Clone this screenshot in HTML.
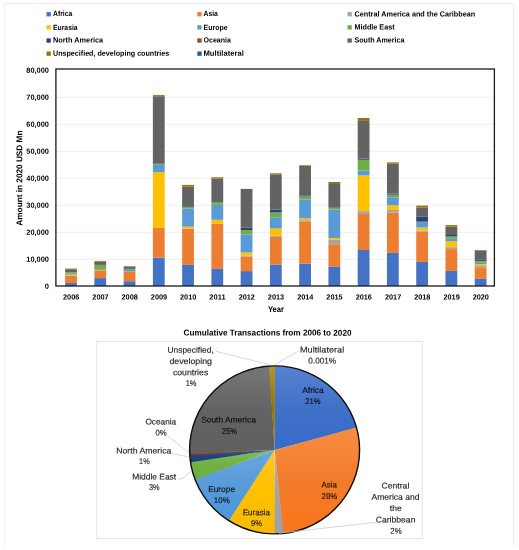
<!DOCTYPE html>
<html lang="en"><head><meta charset="utf-8"><title>Transactions by region</title>
<style>html,body{margin:0;padding:0;background:#fff}svg{display:block}text{font-family:"Liberation Sans", sans-serif}</style>
</head><body>
<svg width="519" height="550" viewBox="0 0 519 550">
<rect x="0" y="0" width="519" height="550" fill="#ffffff"/>
<path d="M4.6 546 V3.5 H513.4 V546" fill="none" stroke="#eeeeee" stroke-width="1"/>
<g font-size="7.5" font-weight="bold" fill="#000">
<rect x="46.5" y="12.1" width="4.3" height="4.3" fill="#4472C4"/>
<text x="53.0" y="16.40" transform="rotate(0.03 53.0 16.40)" textLength="19.3" lengthAdjust="spacingAndGlyphs">Africa</text>
<rect x="197.3" y="12.1" width="4.3" height="4.3" fill="#ED7D31"/>
<text x="203.5" y="16.40" transform="rotate(0.03 203.5 16.40)" textLength="14.3" lengthAdjust="spacingAndGlyphs">Asia</text>
<rect x="347.5" y="12.1" width="4.3" height="4.3" fill="#A5A5A5"/>
<text x="354.5" y="16.40" transform="rotate(0.03 354.5 16.40)" textLength="120.7" lengthAdjust="spacingAndGlyphs">Central America and the Caribbean</text>
<rect x="46.5" y="25.2" width="4.3" height="4.3" fill="#FFC000"/>
<text x="53.0" y="29.50" transform="rotate(0.03 53.0 29.50)" textLength="24.6" lengthAdjust="spacingAndGlyphs">Eurasia</text>
<rect x="197.3" y="25.2" width="4.3" height="4.3" fill="#5B9BD5"/>
<text x="203.5" y="29.50" transform="rotate(0.03 203.5 29.50)" textLength="24.1" lengthAdjust="spacingAndGlyphs">Europe</text>
<rect x="347.5" y="25.2" width="4.3" height="4.3" fill="#70AD47"/>
<text x="354.5" y="29.50" transform="rotate(0.03 354.5 29.50)" textLength="40.1" lengthAdjust="spacingAndGlyphs">Middle East</text>
<rect x="46.5" y="38.4" width="4.3" height="4.3" fill="#264478"/>
<text x="53.0" y="42.60" transform="rotate(0.03 53.0 42.60)" textLength="50.2" lengthAdjust="spacingAndGlyphs">North America</text>
<rect x="197.3" y="38.4" width="4.3" height="4.3" fill="#9E480E"/>
<text x="203.5" y="42.60" transform="rotate(0.03 203.5 42.60)" textLength="27.4" lengthAdjust="spacingAndGlyphs">Oceania</text>
<rect x="347.5" y="38.4" width="4.3" height="4.3" fill="#636363"/>
<text x="354.5" y="42.60" transform="rotate(0.03 354.5 42.60)" textLength="49.9" lengthAdjust="spacingAndGlyphs">South America</text>
<rect x="46.5" y="51.5" width="4.3" height="4.3" fill="#997300"/>
<text x="53.0" y="55.70" transform="rotate(0.03 53.0 55.70)" textLength="116.3" lengthAdjust="spacingAndGlyphs">Unspecified, developing countries</text>
<rect x="197.3" y="51.5" width="4.3" height="4.3" fill="#255E91"/>
<text x="203.5" y="55.70" transform="rotate(0.03 203.5 55.70)" textLength="40.4" lengthAdjust="spacingAndGlyphs">Multilateral</text>
</g>
<g stroke="#e9e9e9" stroke-width="0.8">
<line x1="55.9" x2="494.4" y1="259.30" y2="259.30"/>
<line x1="55.9" x2="494.4" y1="232.30" y2="232.30"/>
<line x1="55.9" x2="494.4" y1="205.30" y2="205.30"/>
<line x1="55.9" x2="494.4" y1="178.30" y2="178.30"/>
<line x1="55.9" x2="494.4" y1="151.30" y2="151.30"/>
<line x1="55.9" x2="494.4" y1="124.30" y2="124.30"/>
<line x1="55.9" x2="494.4" y1="97.30" y2="97.30"/>
</g>
<g>
<rect x="65.10" y="283.05" width="11.80" height="2.95" fill="#4472C4"/>
<rect x="65.10" y="275.80" width="11.80" height="7.25" fill="#ED7D31"/>
<rect x="65.10" y="274.70" width="11.80" height="1.10" fill="#FFC000"/>
<rect x="65.10" y="273.80" width="11.80" height="0.90" fill="#5B9BD5"/>
<rect x="65.10" y="272.40" width="11.80" height="1.40" fill="#70AD47"/>
<rect x="65.10" y="269.20" width="11.80" height="3.20" fill="#636363"/>
<rect x="65.10" y="268.60" width="11.80" height="0.60" fill="#997300"/>
<rect x="94.36" y="278.10" width="11.80" height="7.90" fill="#4472C4"/>
<rect x="94.36" y="270.40" width="11.80" height="7.70" fill="#ED7D31"/>
<rect x="94.36" y="269.80" width="11.80" height="0.60" fill="#A5A5A5"/>
<rect x="94.36" y="265.30" width="11.80" height="4.50" fill="#70AD47"/>
<rect x="94.36" y="264.90" width="11.80" height="0.40" fill="#264478"/>
<rect x="94.36" y="261.50" width="11.80" height="3.40" fill="#636363"/>
<rect x="94.36" y="260.90" width="11.80" height="0.60" fill="#997300"/>
<rect x="123.62" y="281.20" width="11.80" height="4.80" fill="#4472C4"/>
<rect x="123.62" y="271.60" width="11.80" height="9.60" fill="#ED7D31"/>
<rect x="123.62" y="270.00" width="11.80" height="1.60" fill="#5B9BD5"/>
<rect x="123.62" y="268.90" width="11.80" height="1.10" fill="#70AD47"/>
<rect x="123.62" y="266.70" width="11.80" height="2.20" fill="#636363"/>
<rect x="123.62" y="266.10" width="11.80" height="0.60" fill="#997300"/>
<rect x="152.88" y="257.60" width="11.80" height="28.40" fill="#4472C4"/>
<rect x="152.88" y="227.80" width="11.80" height="29.80" fill="#ED7D31"/>
<rect x="152.88" y="172.20" width="11.80" height="55.60" fill="#FFC000"/>
<rect x="152.88" y="164.90" width="11.80" height="7.30" fill="#5B9BD5"/>
<rect x="152.88" y="163.80" width="11.80" height="1.10" fill="#70AD47"/>
<rect x="152.88" y="96.20" width="11.80" height="67.60" fill="#636363"/>
<rect x="152.88" y="95.10" width="11.80" height="1.10" fill="#997300"/>
<rect x="182.14" y="264.90" width="11.80" height="21.10" fill="#4472C4"/>
<rect x="182.14" y="228.50" width="11.80" height="36.40" fill="#ED7D31"/>
<rect x="182.14" y="226.70" width="11.80" height="1.80" fill="#FFC000"/>
<rect x="182.14" y="208.50" width="11.80" height="18.20" fill="#5B9BD5"/>
<rect x="182.14" y="206.70" width="11.80" height="1.80" fill="#70AD47"/>
<rect x="182.14" y="206.00" width="11.80" height="0.70" fill="#264478"/>
<rect x="182.14" y="186.70" width="11.80" height="19.30" fill="#636363"/>
<rect x="182.14" y="184.90" width="11.80" height="1.80" fill="#997300"/>
<rect x="211.40" y="268.90" width="11.80" height="17.10" fill="#4472C4"/>
<rect x="211.40" y="223.80" width="11.80" height="45.10" fill="#ED7D31"/>
<rect x="211.40" y="219.80" width="11.80" height="4.00" fill="#FFC000"/>
<rect x="211.40" y="204.90" width="11.80" height="14.90" fill="#5B9BD5"/>
<rect x="211.40" y="202.00" width="11.80" height="2.90" fill="#70AD47"/>
<rect x="211.40" y="178.40" width="11.80" height="23.60" fill="#636363"/>
<rect x="211.40" y="177.30" width="11.80" height="1.10" fill="#997300"/>
<rect x="240.66" y="271.10" width="11.80" height="14.90" fill="#4472C4"/>
<rect x="240.66" y="256.50" width="11.80" height="14.60" fill="#ED7D31"/>
<rect x="240.66" y="255.50" width="11.80" height="1.00" fill="#A5A5A5"/>
<rect x="240.66" y="252.50" width="11.80" height="3.00" fill="#FFC000"/>
<rect x="240.66" y="234.40" width="11.80" height="18.10" fill="#5B9BD5"/>
<rect x="240.66" y="230.00" width="11.80" height="4.40" fill="#70AD47"/>
<rect x="240.66" y="227.80" width="11.80" height="2.20" fill="#264478"/>
<rect x="240.66" y="188.90" width="11.80" height="38.90" fill="#636363"/>
<rect x="269.92" y="264.50" width="11.80" height="21.50" fill="#4472C4"/>
<rect x="269.92" y="236.90" width="11.80" height="27.60" fill="#ED7D31"/>
<rect x="269.92" y="235.80" width="11.80" height="1.10" fill="#A5A5A5"/>
<rect x="269.92" y="228.50" width="11.80" height="7.30" fill="#FFC000"/>
<rect x="269.92" y="217.30" width="11.80" height="11.20" fill="#5B9BD5"/>
<rect x="269.92" y="212.50" width="11.80" height="4.80" fill="#70AD47"/>
<rect x="269.92" y="209.60" width="11.80" height="2.90" fill="#264478"/>
<rect x="269.92" y="174.40" width="11.80" height="35.20" fill="#636363"/>
<rect x="269.92" y="173.30" width="11.80" height="1.10" fill="#997300"/>
<rect x="299.18" y="263.80" width="11.80" height="22.20" fill="#4472C4"/>
<rect x="299.18" y="221.30" width="11.80" height="42.50" fill="#ED7D31"/>
<rect x="299.18" y="220.20" width="11.80" height="1.10" fill="#A5A5A5"/>
<rect x="299.18" y="218.40" width="11.80" height="1.80" fill="#FFC000"/>
<rect x="299.18" y="199.50" width="11.80" height="18.90" fill="#5B9BD5"/>
<rect x="299.18" y="196.50" width="11.80" height="3.00" fill="#70AD47"/>
<rect x="299.18" y="195.80" width="11.80" height="0.70" fill="#264478"/>
<rect x="299.18" y="166.00" width="11.80" height="29.80" fill="#636363"/>
<rect x="299.18" y="165.30" width="11.80" height="0.70" fill="#997300"/>
<rect x="328.44" y="266.40" width="11.80" height="19.60" fill="#4472C4"/>
<rect x="328.44" y="244.20" width="11.80" height="22.20" fill="#ED7D31"/>
<rect x="328.44" y="239.80" width="11.80" height="4.40" fill="#A5A5A5"/>
<rect x="328.44" y="238.00" width="11.80" height="1.80" fill="#FFC000"/>
<rect x="328.44" y="209.60" width="11.80" height="28.40" fill="#5B9BD5"/>
<rect x="328.44" y="207.80" width="11.80" height="1.80" fill="#70AD47"/>
<rect x="328.44" y="183.10" width="11.80" height="24.70" fill="#636363"/>
<rect x="328.44" y="182.00" width="11.80" height="1.10" fill="#997300"/>
<rect x="357.70" y="250.00" width="11.80" height="36.00" fill="#4472C4"/>
<rect x="357.70" y="214.00" width="11.80" height="36.00" fill="#ED7D31"/>
<rect x="357.70" y="211.10" width="11.80" height="2.90" fill="#A5A5A5"/>
<rect x="357.70" y="175.50" width="11.80" height="35.60" fill="#FFC000"/>
<rect x="357.70" y="170.40" width="11.80" height="5.10" fill="#5B9BD5"/>
<rect x="357.70" y="159.80" width="11.80" height="10.60" fill="#70AD47"/>
<rect x="357.70" y="158.70" width="11.80" height="1.10" fill="#264478"/>
<rect x="357.70" y="120.20" width="11.80" height="38.50" fill="#636363"/>
<rect x="357.70" y="118.00" width="11.80" height="2.20" fill="#997300"/>
<rect x="386.96" y="252.90" width="11.80" height="33.10" fill="#4472C4"/>
<rect x="386.96" y="212.50" width="11.80" height="40.40" fill="#ED7D31"/>
<rect x="386.96" y="210.00" width="11.80" height="2.50" fill="#A5A5A5"/>
<rect x="386.96" y="205.30" width="11.80" height="4.70" fill="#FFC000"/>
<rect x="386.96" y="197.30" width="11.80" height="8.00" fill="#5B9BD5"/>
<rect x="386.96" y="194.70" width="11.80" height="2.60" fill="#70AD47"/>
<rect x="386.96" y="193.60" width="11.80" height="1.10" fill="#264478"/>
<rect x="386.96" y="163.80" width="11.80" height="29.80" fill="#636363"/>
<rect x="386.96" y="162.40" width="11.80" height="1.40" fill="#997300"/>
<rect x="416.22" y="261.90" width="11.80" height="24.10" fill="#4472C4"/>
<rect x="416.22" y="231.80" width="11.80" height="30.10" fill="#ED7D31"/>
<rect x="416.22" y="230.50" width="11.80" height="1.30" fill="#A5A5A5"/>
<rect x="416.22" y="227.50" width="11.80" height="3.00" fill="#FFC000"/>
<rect x="416.22" y="222.10" width="11.80" height="5.40" fill="#5B9BD5"/>
<rect x="416.22" y="221.60" width="11.80" height="0.50" fill="#9E480E"/>
<rect x="416.22" y="216.40" width="11.80" height="5.20" fill="#264478"/>
<rect x="416.22" y="207.40" width="11.80" height="9.00" fill="#636363"/>
<rect x="416.22" y="205.60" width="11.80" height="1.80" fill="#997300"/>
<rect x="445.48" y="270.90" width="11.80" height="15.10" fill="#4472C4"/>
<rect x="445.48" y="249.10" width="11.80" height="21.80" fill="#ED7D31"/>
<rect x="445.48" y="247.20" width="11.80" height="1.90" fill="#A5A5A5"/>
<rect x="445.48" y="241.30" width="11.80" height="5.90" fill="#FFC000"/>
<rect x="445.48" y="238.80" width="11.80" height="2.50" fill="#5B9BD5"/>
<rect x="445.48" y="236.40" width="11.80" height="2.40" fill="#70AD47"/>
<rect x="445.48" y="235.00" width="11.80" height="1.40" fill="#264478"/>
<rect x="445.48" y="226.70" width="11.80" height="8.30" fill="#636363"/>
<rect x="445.48" y="225.10" width="11.80" height="1.60" fill="#997300"/>
<rect x="474.74" y="278.40" width="11.80" height="7.60" fill="#4472C4"/>
<rect x="474.74" y="267.80" width="11.80" height="10.60" fill="#ED7D31"/>
<rect x="474.74" y="266.00" width="11.80" height="1.80" fill="#A5A5A5"/>
<rect x="474.74" y="264.00" width="11.80" height="2.00" fill="#FFC000"/>
<rect x="474.74" y="262.90" width="11.80" height="1.10" fill="#5B9BD5"/>
<rect x="474.74" y="261.30" width="11.80" height="1.60" fill="#70AD47"/>
<rect x="474.74" y="259.90" width="11.80" height="1.40" fill="#255E91"/>
<rect x="474.74" y="250.40" width="11.80" height="9.50" fill="#636363"/>
<rect x="474.74" y="250.00" width="11.80" height="0.40" fill="#997300"/>
</g>
<rect x="55.9" y="69.0" width="438.5" height="217.0" fill="none" stroke="#1a1a1a" stroke-width="1.3"/>
<g font-size="7.4" font-weight="bold" fill="#000" text-anchor="end">
<text x="48.9" y="288.65" transform="rotate(0.03 48.9 288.65)" textLength="4.2" lengthAdjust="spacingAndGlyphs">0</text>
<text x="48.9" y="261.65" transform="rotate(0.03 48.9 261.65)" textLength="22.6" lengthAdjust="spacingAndGlyphs">10,000</text>
<text x="48.9" y="234.65" transform="rotate(0.03 48.9 234.65)" textLength="22.6" lengthAdjust="spacingAndGlyphs">20,000</text>
<text x="48.9" y="207.65" transform="rotate(0.03 48.9 207.65)" textLength="22.6" lengthAdjust="spacingAndGlyphs">30,000</text>
<text x="48.9" y="180.65" transform="rotate(0.03 48.9 180.65)" textLength="22.6" lengthAdjust="spacingAndGlyphs">40,000</text>
<text x="48.9" y="153.65" transform="rotate(0.03 48.9 153.65)" textLength="22.6" lengthAdjust="spacingAndGlyphs">50,000</text>
<text x="48.9" y="126.65" transform="rotate(0.03 48.9 126.65)" textLength="22.6" lengthAdjust="spacingAndGlyphs">60,000</text>
<text x="48.9" y="99.65" transform="rotate(0.03 48.9 99.65)" textLength="22.6" lengthAdjust="spacingAndGlyphs">70,000</text>
<text x="48.9" y="72.65" transform="rotate(0.03 48.9 72.65)" textLength="22.6" lengthAdjust="spacingAndGlyphs">80,000</text>
</g>
<g font-size="7.4" font-weight="bold" fill="#000" text-anchor="middle">
<text x="71.2" y="299.50" transform="rotate(0.03 71.2 299.50)" textLength="16.3" lengthAdjust="spacingAndGlyphs">2006</text>
<text x="100.5" y="299.50" transform="rotate(0.03 100.5 299.50)" textLength="16.3" lengthAdjust="spacingAndGlyphs">2007</text>
<text x="129.7" y="299.50" transform="rotate(0.03 129.7 299.50)" textLength="16.3" lengthAdjust="spacingAndGlyphs">2008</text>
<text x="159.0" y="299.50" transform="rotate(0.03 159.0 299.50)" textLength="16.3" lengthAdjust="spacingAndGlyphs">2009</text>
<text x="188.2" y="299.50" transform="rotate(0.03 188.2 299.50)" textLength="16.3" lengthAdjust="spacingAndGlyphs">2010</text>
<text x="217.5" y="299.50" transform="rotate(0.03 217.5 299.50)" textLength="16.3" lengthAdjust="spacingAndGlyphs">2011</text>
<text x="246.8" y="299.50" transform="rotate(0.03 246.8 299.50)" textLength="16.3" lengthAdjust="spacingAndGlyphs">2012</text>
<text x="276.0" y="299.50" transform="rotate(0.03 276.0 299.50)" textLength="16.3" lengthAdjust="spacingAndGlyphs">2013</text>
<text x="305.3" y="299.50" transform="rotate(0.03 305.3 299.50)" textLength="16.3" lengthAdjust="spacingAndGlyphs">2014</text>
<text x="334.5" y="299.50" transform="rotate(0.03 334.5 299.50)" textLength="16.3" lengthAdjust="spacingAndGlyphs">2015</text>
<text x="363.8" y="299.50" transform="rotate(0.03 363.8 299.50)" textLength="16.3" lengthAdjust="spacingAndGlyphs">2016</text>
<text x="393.1" y="299.50" transform="rotate(0.03 393.1 299.50)" textLength="16.3" lengthAdjust="spacingAndGlyphs">2017</text>
<text x="422.3" y="299.50" transform="rotate(0.03 422.3 299.50)" textLength="16.3" lengthAdjust="spacingAndGlyphs">2018</text>
<text x="451.6" y="299.50" transform="rotate(0.03 451.6 299.50)" textLength="16.3" lengthAdjust="spacingAndGlyphs">2019</text>
<text x="480.8" y="299.50" transform="rotate(0.03 480.8 299.50)" textLength="16.3" lengthAdjust="spacingAndGlyphs">2020</text>
</g>
<text x="276.0" y="312.00" transform="rotate(0.03 276.0 312.00)" textLength="16.2" lengthAdjust="spacingAndGlyphs" font-size="8.4" font-weight="bold" text-anchor="middle">Year</text>
<text transform="translate(22.3 178.1) rotate(-89.97)" font-size="8.4" font-weight="bold" text-anchor="middle" textLength="95.1" lengthAdjust="spacingAndGlyphs">Amount in 2020 USD Mn</text>
<text x="267.5" y="335.60" transform="rotate(0.03 267.5 335.60)" textLength="168.0" lengthAdjust="spacingAndGlyphs" font-size="8.5" font-weight="bold" text-anchor="middle">Cumulative Transactions from 2006 to 2020</text>
<rect x="96.8" y="341.5" width="325.4" height="197" fill="#fff" stroke="#e3e3e3" stroke-width="1"/>
<defs>
<linearGradient id="gA" x1="0" y1="0" x2="0" y2="1"><stop offset="0" stop-color="#5682D2"/><stop offset="0.5" stop-color="#4171C7"/><stop offset="1" stop-color="#346BCC"/></linearGradient>
<linearGradient id="gAs" x1="0" y1="0" x2="0" y2="1"><stop offset="0" stop-color="#F98C42"/><stop offset="0.5" stop-color="#F27C2C"/><stop offset="1" stop-color="#FB751A"/></linearGradient>
<linearGradient id="gCA" x1="0" y1="0" x2="0" y2="1"><stop offset="0" stop-color="#B1B1B1"/><stop offset="0.5" stop-color="#A5A5A5"/><stop offset="1" stop-color="#A0A0A0"/></linearGradient>
<linearGradient id="gEu" x1="0" y1="0" x2="0" y2="1"><stop offset="0" stop-color="#FFC821"/><stop offset="0.5" stop-color="#FFC000"/><stop offset="1" stop-color="#F7BA00"/></linearGradient>
<linearGradient id="gEr" x1="0" y1="0" x2="0" y2="1"><stop offset="0" stop-color="#6AA8E1"/><stop offset="0.5" stop-color="#589BD8"/><stop offset="1" stop-color="#4A97DD"/></linearGradient>
<linearGradient id="gME" x1="0" y1="0" x2="0" y2="1"><stop offset="0" stop-color="#82BD5A"/><stop offset="0.5" stop-color="#70B044"/><stop offset="1" stop-color="#6BAF3D"/></linearGradient>
<linearGradient id="gNA" x1="0" y1="0" x2="0" y2="1"><stop offset="0" stop-color="#3E5B8E"/><stop offset="0.5" stop-color="#24437A"/><stop offset="1" stop-color="#1F407A"/></linearGradient>
<linearGradient id="gOc" x1="0" y1="0" x2="0" y2="1"><stop offset="0" stop-color="#B25E26"/><stop offset="0.5" stop-color="#A2470A"/><stop offset="1" stop-color="#A44403"/></linearGradient>
<linearGradient id="gSA" x1="0" y1="0" x2="0" y2="1"><stop offset="0" stop-color="#777777"/><stop offset="0.5" stop-color="#636363"/><stop offset="1" stop-color="#606060"/></linearGradient>
<linearGradient id="gUn" x1="0" y1="0" x2="0" y2="1"><stop offset="0" stop-color="#B5932C"/><stop offset="0.5" stop-color="#997300"/><stop offset="1" stop-color="#947000"/></linearGradient>
</defs>
<g>
<path d="M274.65 449.90 L274.65 365.90 A85.00 84.00 0 0 1 356.72 428.02 Z" fill="url(#gA)"/>
<path d="M274.65 449.90 L356.52 427.31 A85.00 84.00 0 0 1 282.94 533.50 Z" fill="url(#gAs)"/>
<path d="M274.65 449.90 L283.68 533.42 A85.00 84.00 0 0 1 273.91 533.90 Z" fill="url(#gCA)"/>
<path d="M274.65 449.90 L274.65 533.90 A85.00 84.00 0 0 1 228.23 520.27 Z" fill="url(#gEu)"/>
<path d="M274.65 449.90 L228.85 520.67 A85.00 84.00 0 0 1 194.88 478.91 Z" fill="url(#gEr)"/>
<path d="M274.65 449.90 L195.14 479.59 A85.00 84.00 0 0 1 190.46 461.45 Z" fill="url(#gME)"/>
<path d="M274.65 449.90 L190.56 462.17 A85.00 84.00 0 0 1 189.75 454.00 Z" fill="url(#gNA)"/>
<path d="M274.65 449.90 L189.79 454.74 A85.00 84.00 0 0 1 189.70 452.83 Z" fill="url(#gOc)"/>
<path d="M274.65 449.90 L189.73 453.56 A85.00 84.00 0 0 1 269.61 366.05 Z" fill="url(#gSA)"/>
<path d="M274.65 449.90 L268.87 366.09 A85.00 84.00 0 0 1 275.02 365.90 Z" fill="url(#gUn)"/>
</g>
<ellipse cx="274.6" cy="449.9" rx="85.0" ry="84.0" fill="none" stroke="#0d0d0d" stroke-width="1.4"/>
<g fill="none" stroke="#c9c9c9" stroke-width="0.75">
<path d="M215.5 351.2 L270.6 364.8"/>
<path d="M275.0 364.6 L299.3 350.6"/>
<path d="M167.2 435.6 L188.9 452.6"/>
<path d="M172.4 453.6 L189.4 457.0"/>
<path d="M178.3 479.4 L183.0 478.3 L191.2 471.0"/>
<path d="M375.2 522.4 L279.0 533.2"/>
</g>
<g font-size="8.3" fill="#000" fill-opacity="0.82" stroke="#000" stroke-opacity="0.82" stroke-width="0.18" text-anchor="middle">
<text x="190.6" y="352.80" transform="rotate(0.03 190.6 352.80)" textLength="46.3" lengthAdjust="spacingAndGlyphs">Unspecified,</text>
<text x="190.7" y="364.00" transform="rotate(0.03 190.7 364.00)" textLength="42.6" lengthAdjust="spacingAndGlyphs">developing</text>
<text x="190.6" y="375.20" transform="rotate(0.03 190.6 375.20)" textLength="35.3" lengthAdjust="spacingAndGlyphs">countries</text>
<text x="191.1" y="386.40" transform="rotate(0.03 191.1 386.40)" textLength="10.8" lengthAdjust="spacingAndGlyphs">1%</text>
<text x="322.1" y="352.40" transform="rotate(0.03 322.1 352.40)" textLength="44.2" lengthAdjust="spacingAndGlyphs">Multilateral</text>
<text x="322.2" y="363.40" transform="rotate(0.03 322.2 363.40)" textLength="27.8" lengthAdjust="spacingAndGlyphs">0.001%</text>
<text x="313.0" y="392.90" transform="rotate(0.03 313.0 392.90)" textLength="21.5" lengthAdjust="spacingAndGlyphs">Africa</text>
<text x="313.0" y="404.40" transform="rotate(0.03 313.0 404.40)" textLength="15.3" lengthAdjust="spacingAndGlyphs">21%</text>
<text x="228.5" y="422.40" transform="rotate(0.03 228.5 422.40)" textLength="54.7" lengthAdjust="spacingAndGlyphs">South America</text>
<text x="229.3" y="433.80" transform="rotate(0.03 229.3 433.80)" textLength="15.0" lengthAdjust="spacingAndGlyphs">25%</text>
<text x="160.8" y="424.50" transform="rotate(0.03 160.8 424.50)" textLength="30.8" lengthAdjust="spacingAndGlyphs">Oceania</text>
<text x="161.0" y="435.60" transform="rotate(0.03 161.0 435.60)" textLength="11.2" lengthAdjust="spacingAndGlyphs">0%</text>
<text x="143.8" y="453.60" transform="rotate(0.03 143.8 453.60)" textLength="55.1" lengthAdjust="spacingAndGlyphs">North America</text>
<text x="144.4" y="464.20" transform="rotate(0.03 144.4 464.20)" textLength="10.6" lengthAdjust="spacingAndGlyphs">1%</text>
<text x="154.2" y="479.60" transform="rotate(0.03 154.2 479.60)" textLength="43.9" lengthAdjust="spacingAndGlyphs">Middle East</text>
<text x="154.3" y="490.50" transform="rotate(0.03 154.3 490.50)" textLength="10.6" lengthAdjust="spacingAndGlyphs">3%</text>
<text x="221.6" y="491.90" transform="rotate(0.03 221.6 491.90)" textLength="26.9" lengthAdjust="spacingAndGlyphs">Europe</text>
<text x="221.8" y="503.00" transform="rotate(0.03 221.8 503.00)" textLength="15.9" lengthAdjust="spacingAndGlyphs">10%</text>
<text x="256.4" y="515.20" transform="rotate(0.03 256.4 515.20)" textLength="27.4" lengthAdjust="spacingAndGlyphs">Eurasia</text>
<text x="256.5" y="525.80" transform="rotate(0.03 256.5 525.80)" textLength="11.0" lengthAdjust="spacingAndGlyphs">9%</text>
<text x="329.3" y="487.40" transform="rotate(0.03 329.3 487.40)" textLength="15.4" lengthAdjust="spacingAndGlyphs">Asia</text>
<text x="329.4" y="499.00" transform="rotate(0.03 329.4 499.00)" textLength="15.6" lengthAdjust="spacingAndGlyphs">28%</text>
<text x="395.4" y="488.50" transform="rotate(0.03 395.4 488.50)" textLength="27.8" lengthAdjust="spacingAndGlyphs">Central</text>
<text x="395.5" y="499.80" transform="rotate(0.03 395.5 499.80)" textLength="48.0" lengthAdjust="spacingAndGlyphs">America and</text>
<text x="395.7" y="511.10" transform="rotate(0.03 395.7 511.10)" textLength="11.9" lengthAdjust="spacingAndGlyphs">the</text>
<text x="395.6" y="522.40" transform="rotate(0.03 395.6 522.40)" textLength="39.7" lengthAdjust="spacingAndGlyphs">Caribbean</text>
<text x="396.0" y="533.70" transform="rotate(0.03 396.0 533.70)" textLength="11.3" lengthAdjust="spacingAndGlyphs">2%</text>
</g>
</svg>
</body></html>
